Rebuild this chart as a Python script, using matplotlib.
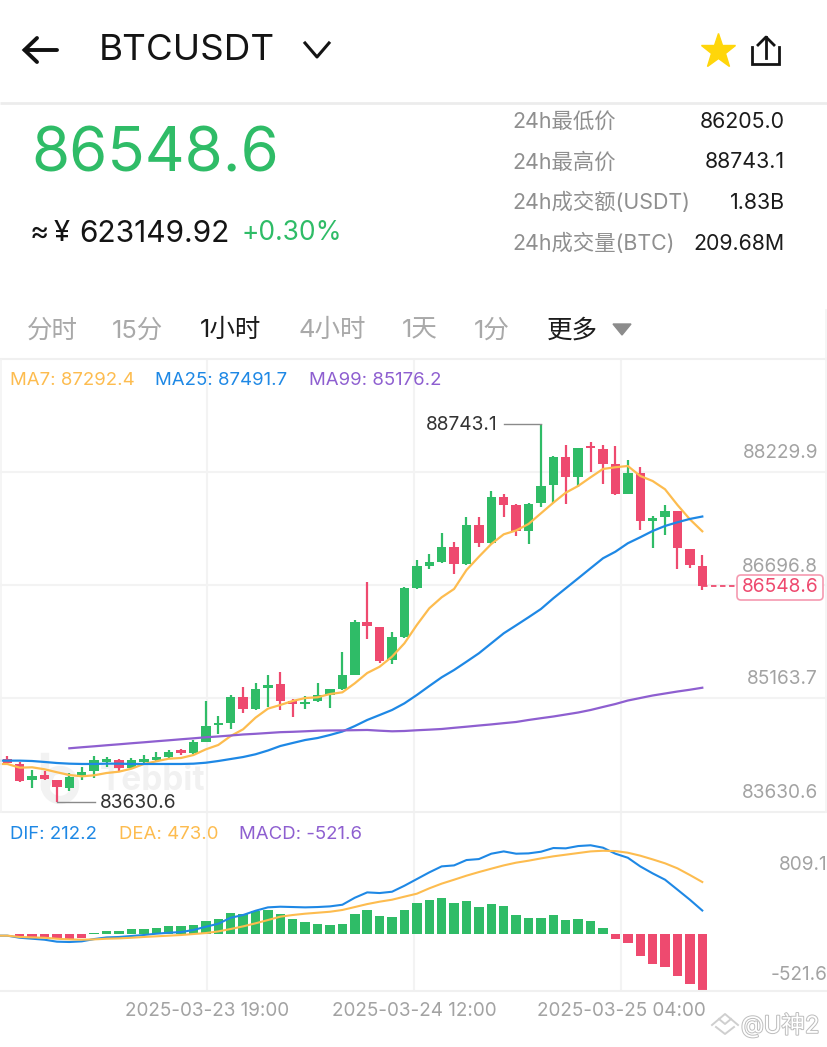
import matplotlib
matplotlib.use("Agg")
import matplotlib.pyplot as plt
import matplotlib.patheffects as pe
from matplotlib.patches import FancyBboxPatch
import numpy as np

plt.rcParams['font.family'] = ['Inter', 'Noto Sans CJK SC', 'DejaVu Sans']

# hourly candles
opens = [84216, 84145, 83924, 83992, 83928, 83820, 83973, 84046, 84168, 84203,
         84095, 84172, 84203, 84243, 84334, 84298, 84446, 84668, 84703, 85051,
         84884, 85168, 85223, 84993, 84952, 84993, 85082, 85159, 85349, 86061,
         86002, 85547, 85858, 86521, 86823, 86873, 87084, 86846, 87373, 87130,
         87752, 87648, 87300, 87675, 87914, 88293, 88027, 88450, 88409, 88198,
         87797, 88081, 87435, 87482, 87567, 87057, 86827]
closes = [84154, 83919, 83987, 83938, 83830, 83973, 84036, 84199, 84208, 84090,
          84199, 84208, 84239, 84311, 84298, 84438, 84663, 84699, 85051, 84884,
          85159, 85217, 85001, 84960, 84983, 85078, 85159, 85344, 86061, 86007,
          85542, 85858, 86521, 86819, 86873, 87084, 86850, 87373, 87130, 87752,
          87652, 87296, 87666, 87905, 88293, 88027, 88419, 88415, 88206, 87797,
          88081, 87435, 87468, 87567, 87066, 86836, 86548.6]
highs = [84253, 84168, 84064, 84046, 83928, 84019, 84108, 84257, 84235, 84208,
         84230, 84266, 84303, 84338, 84352, 84469, 84997, 84798, 85082, 85182,
         85236, 85349, 85393, 85020, 85068, 85244, 85159, 85655, 86096, 86606,
         86002, 85926, 86539, 86908, 86989, 87269, 87147, 87482, 87482, 87841,
         87793, 87666, 87671, 88743.1, 88311, 88459, 88419, 88496, 88459, 88446,
         88257, 88158, 87495, 87652, 87567, 87057, 86968]
lows = [84131, 83906, 83820, 83924, 83630.6, 83784, 83928, 83959, 84100, 84050,
        84086, 84154, 84168, 84222, 84266, 84280, 84442, 84550, 84622, 84838,
        84879, 84920, 84875, 84784, 84884, 84987, 84898, 85145, 85344, 85835,
        85507, 85497, 85849, 86512, 86782, 86868, 86719, 86840, 87084, 87116,
        87490, 87225, 87120, 87617, 87679, 87666, 87895, 88094, 87932, 87783,
        87793, 87310, 87066, 87242, 86778, 86792, 86494]

ma7 = [84145, 84095, 84100, 84073, 84033, 83996, 83978, 83992, 84023, 84041,
       84081, 84145, 84181, 84216, 84226, 84266, 84343, 84402, 84523, 84614,
       84771, 84893, 84943, 84997, 85037, 85047, 85091, 85114, 85236, 85375,
       85460, 85596, 85777, 86025, 86250, 86399, 86512, 86768, 86948, 87120,
       87251, 87303, 87391, 87535, 87679, 87814, 87905, 88022, 88135, 88158,
       88175, 88040, 87972, 87860, 87648, 87454, 87292.4]
ma25 = [84190, 84190, 84185, 84172, 84158, 84149, 84145, 84145, 84149, 84149,
        84145, 84145, 84145, 84145, 84145, 84149, 84162, 84185, 84212, 84239,
        84276, 84327, 84388, 84429, 84469, 84496, 84537, 84584, 84658, 84740,
        84807, 84875, 84965, 85078, 85199, 85317, 85416, 85528, 85642, 85777,
        85912, 86020, 86129, 86241, 86386, 86521, 86656, 86792, 86927, 87016,
        87130, 87211, 87296, 87364, 87414, 87459, 87491.7]
# MA99 only starts at the 6th candle in the screenshot
ma99 = [84357, 84371, 84384, 84398, 84411, 84425, 84438, 84452, 84465, 84479,
        84492, 84506, 84517, 84530, 84544, 84553, 84564, 84575, 84580, 84587,
        84595, 84598, 84599, 84602, 84605, 84595, 84587, 84591, 84601, 84609,
        84618, 84634, 84649, 84665, 84680, 84697, 84713, 84740, 84764, 84787,
        84814, 84841, 84875, 84916, 84956, 85003, 85037, 85071, 85098, 85125,
        85149, 85176.2]

macd = [-6, -24, -27, -30, -49, -49, -37, 4, 27, 24,
        40, 46, 55, 67, 67, 82, 116, 137, 186, 183,
        210, 217, 180, 137, 107, 88, 79, 91, 180, 214,
        162, 156, 220, 281, 305, 323, 278, 296, 247, 275,
        256, 171, 146, 140, 168, 125, 131, 116, 55, -49,
        -88, -207, -278, -308, -387, -458, -521.6]
dif = [-18, -37, -46, -55, -73, -76, -70, -49, -34, -30,
       -21, -12, 0, 9, 15, 34, 64, 91, 146, 171,
       210, 241, 247, 244, 241, 244, 250, 265, 329, 378,
       372, 384, 439, 500, 561, 616, 625, 674, 683, 732,
       753, 732, 735, 750, 784, 781, 802, 809.1, 787, 732,
       695, 616, 552, 494, 403, 311, 212.2]
dea = [-18, -30, -34, -37, -46, -52, -55, -52, -46, -43,
       -37, -30, -24, -18, -12, -3, 6, 21, 43, 67,
       95, 125, 156, 171, 183, 192, 201, 217, 244, 271,
       293, 311, 339, 366, 415, 458, 494, 531, 564, 595,
       625, 650, 668, 689, 708, 723, 738, 753, 759, 756,
       741, 714, 680, 644, 598, 537, 473.0]

price_labels = ["88229.9", "86696.8", "85163.7", "83630.6"]
price_grid = [88094, 86565, 85037]
time_labels = ["2025-03-23 19:00", "2025-03-24 12:00", "2025-03-25 04:00"]
time_ticks = [16.09, 32.77, 49.45]
periods = ["分时", "15分", "1小时", "4小时", "1天", "1分", "更多"]
stat_names = ["24h最低价", "24h最高价", "24h成交额(USDT)", "24h成交量(BTC)"]
stat_values = ["86205.0", "88743.1", "1.83B", "209.68M"]

GREEN = "#2fbc67"
RED = "#ee4a6f"
YELLOW = "#fdbc4f"
BLUE = "#1e88e5"
PURPLE = "#8e5fd0"
GRID = "#f3f3f3"
GREY = "#a3a3a3"

W, H = 828, 1047
fig = plt.figure(figsize=(W / 100, H / 100), dpi=100, facecolor="white")


def box(top, bottom):
    return [0, 1 - bottom / H, 1, (bottom - top) / H]


# overlay in screen pixels for the app chrome
ui = fig.add_axes([0, 0, 1, 1], zorder=5)
ui.set_xlim(0, W)
ui.set_ylim(H, 0)
ui.axis("off")


def txt(x, y, s, size, color, ha="left", **kw):
    # 1.5px: Inter sits a little high with va=center
    return ui.text(x, y + 1.5, s, fontsize=size, color=color, ha=ha, va="center", **kw)


ax = fig.add_axes(box(360, 812), zorder=1)
ax2 = fig.add_axes(box(812, 991), zorder=1)

x = np.arange(len(closes))
# lines run off the left edge of the screen
x_line = np.r_[-0.6, x]
for a in (ax, ax2):
    a.set_xlim(-0.588, 66.13)
    a.set_xticks(time_ticks)
    a.tick_params(length=0, labelleft=False, left=False)
    for s in a.spines.values():
        s.set_visible(False)
    a.grid(axis="x", color=GRID, lw=1.5, zorder=0)
    a.set_axisbelow(True)

# watermark sits under the candles
theta = np.linspace(-2.2, 3.6, 60)
ax.plot(np.r_[45, 45, 60 + 15 * np.cos(theta)], np.r_[757, 788, 785 + 15 * np.sin(theta)],
        color="#f2f2f2", lw=6, transform=ui.transData, zorder=0.5)
ax.text(100, 781, "Tebbit", fontsize=24, fontweight="bold", color="#f1f1f1", va="center",
        transform=ui.transData, zorder=0.5)

# candles
ax.set_ylim(83495.4, 89608.6)
ax.set_yticks(price_grid)
ax.grid(axis="y", color=GRID, lw=1.5, zorder=0)
ax.tick_params(labelbottom=False)
colors = [GREEN if c >= o else RED for o, c in zip(opens, closes)]
bottoms = np.minimum(opens, closes)
heights = np.abs(np.array(closes) - np.array(opens))
ax.vlines(x, lows, highs, colors=colors, lw=1.6, zorder=2)
ax.bar(x, heights, bottom=bottoms, width=0.76, color=colors, zorder=2)
ax.plot(x_line, np.r_[ma7[0], ma7], color=YELLOW, lw=1.6, zorder=3)
ax.plot(x_line, np.r_[ma25[0], ma25], color=BLUE, lw=1.6, zorder=3)
ax.plot(x[5:], ma99, color=PURPLE, lw=1.6, zorder=3)

# last price dashed guide
ax.plot([x[-1], 59.4], [closes[-1], closes[-1]], color=RED, lw=1.3, ls=(0, (3, 2)), zorder=3)

# high / low callouts
hi = int(np.argmax(highs))
lo = int(np.argmin(lows))
ax.plot([hi - 3, hi], [highs[hi], highs[hi]], color="#8a8a8a", lw=1, zorder=3)
ax.plot([lo, lo + 3.06], [lows[lo], lows[lo]], color="#8a8a8a", lw=1, zorder=3)

# MACD
ax2.set_ylim(-524.3, 1113.6)
ax2.set_yticks([])
bar_colors = [GREEN if v >= 0 else RED for v in macd]
ax2.bar(x, macd, width=0.76, color=bar_colors, zorder=2)
ax2.plot(x_line, np.r_[dif[0], dif], color=BLUE, lw=1.5, zorder=3)
ax2.plot(x_line, np.r_[dea[0], dea], color=YELLOW, lw=1.5, zorder=3)
ax2.set_xticklabels(time_labels, fontsize=13.6, color=GREY)
ax2.tick_params(axis="x", pad=8)

# separators
for yy, c, lw in [(103, "#ececec", 2), (358.5, "#f0f0f0", 1.5), (812, "#f0f0f0", 1.5), (991, "#f0f0f0", 1.5)]:
    ui.plot([0, W], [yy, yy], color=c, lw=lw, solid_capstyle="butt")
ui.plot([1, 1], [360, 812], color=GRID, lw=1.2)
ui.plot([826.5, 826.5], [310, 812], color=GRID, lw=1.2)

# header
ui.plot([57, 25], [50, 50], color="#111111", lw=2.8, solid_capstyle="round")
ui.plot([37, 24.5, 37], [38, 50, 62], color="#111111", lw=2.8, solid_capstyle="round", solid_joinstyle="miter")
txt(99, 49, "BTCUSDT", 26.5, "#141414")
ui.plot([305, 317, 329], [43, 57, 43], color="#141414", lw=2.2)
ui.plot([718], [51], marker="*", ms=26, color="#ffd60a", mec="#ffd60a")
ui.plot([752, 752, 779, 779], [47, 64, 64, 47], color="#141414", lw=2, solid_joinstyle="miter")
ui.plot([766, 766], [37, 58], color="#141414", lw=2)
ui.plot([758, 766, 774], [45, 37, 45], color="#141414", lw=2)

# price block
txt(31, 154, "86548.6", 44.5, GREEN)
txt(30, 232, "≈", 21, "#141414")
txt(54, 232, "¥", 21, "#141414")
txt(79, 232, "623149.92", 21.5, "#141414")
txt(242, 232, "+0.30%", 19, GREEN)

for i, (n, v) in enumerate(zip(stat_names, stat_values)):
    yy = 120 + i * 40.7
    txt(512, yy, n, 15.4, "#8f8f8f")
    txt(785, yy, v, 15.4, "#1c1c1c", ha="right")

# period tabs
tab_x = [27, 112, 200, 299, 402, 474, 547]
for px, lab in zip(tab_x, periods):
    c = "#1c1c1c" if lab in ("1小时", "更多") else "#a9a9a9"
    txt(px, 329, lab, 18.4, c)
ui.fill([613, 631, 622], [324, 324, 335], color="#8c8c8c")

# legends
txt(10, 379, "MA7: 87292.4", 13.4, YELLOW)
txt(155, 379, "MA25: 87491.7", 13.4, BLUE)
txt(309, 379, "MA99: 85176.2", 13.4, PURPLE)
txt(10, 833, "DIF: 212.2", 13.4, BLUE)
txt(119, 833, "DEA: 473.0", 13.4, YELLOW)
txt(239, 833, "MACD: -521.6", 13.4, PURPLE)

# price axis labels
for yy, lab in zip([452, 565, 678, 792], price_labels):
    txt(818, yy, lab, 13.7, GREY, ha="right")
txt(828, 863, "809.1", 13.7, GREY, ha="right")
txt(828, 974, "-521.6", 13.7, GREY, ha="right")

txt(100, 801, "83630.6", 13.8, "#333333")
txt(426, 423, "88743.1", 13.8, "#333333")

tag = FancyBboxPatch((737, 575), 86, 25, boxstyle="round,pad=0,rounding_size=4",
                     fc="white", ec="#f59ab0", lw=1.2, zorder=4)
ui.add_patch(tag)
txt(780, 586, "86548.6", 13.8, RED, ha="center", zorder=5)

# author mark bottom right
ws = [pe.withStroke(linewidth=1.4, foreground="#bdbdbd")]
txt(741, 1024, "@U神2", 17, "white", path_effects=ws)
ui.plot([712, 725, 738], [1025, 1014, 1025], color="#cfcfcf", lw=1.4)
ui.plot([716, 725, 734], [1027, 1034, 1027], color="#cfcfcf", lw=1.4)
ui.plot([719, 725, 731], [1019, 1024, 1019], color="#cfcfcf", lw=1.4)

fig.savefig("out.png", dpi=100)
